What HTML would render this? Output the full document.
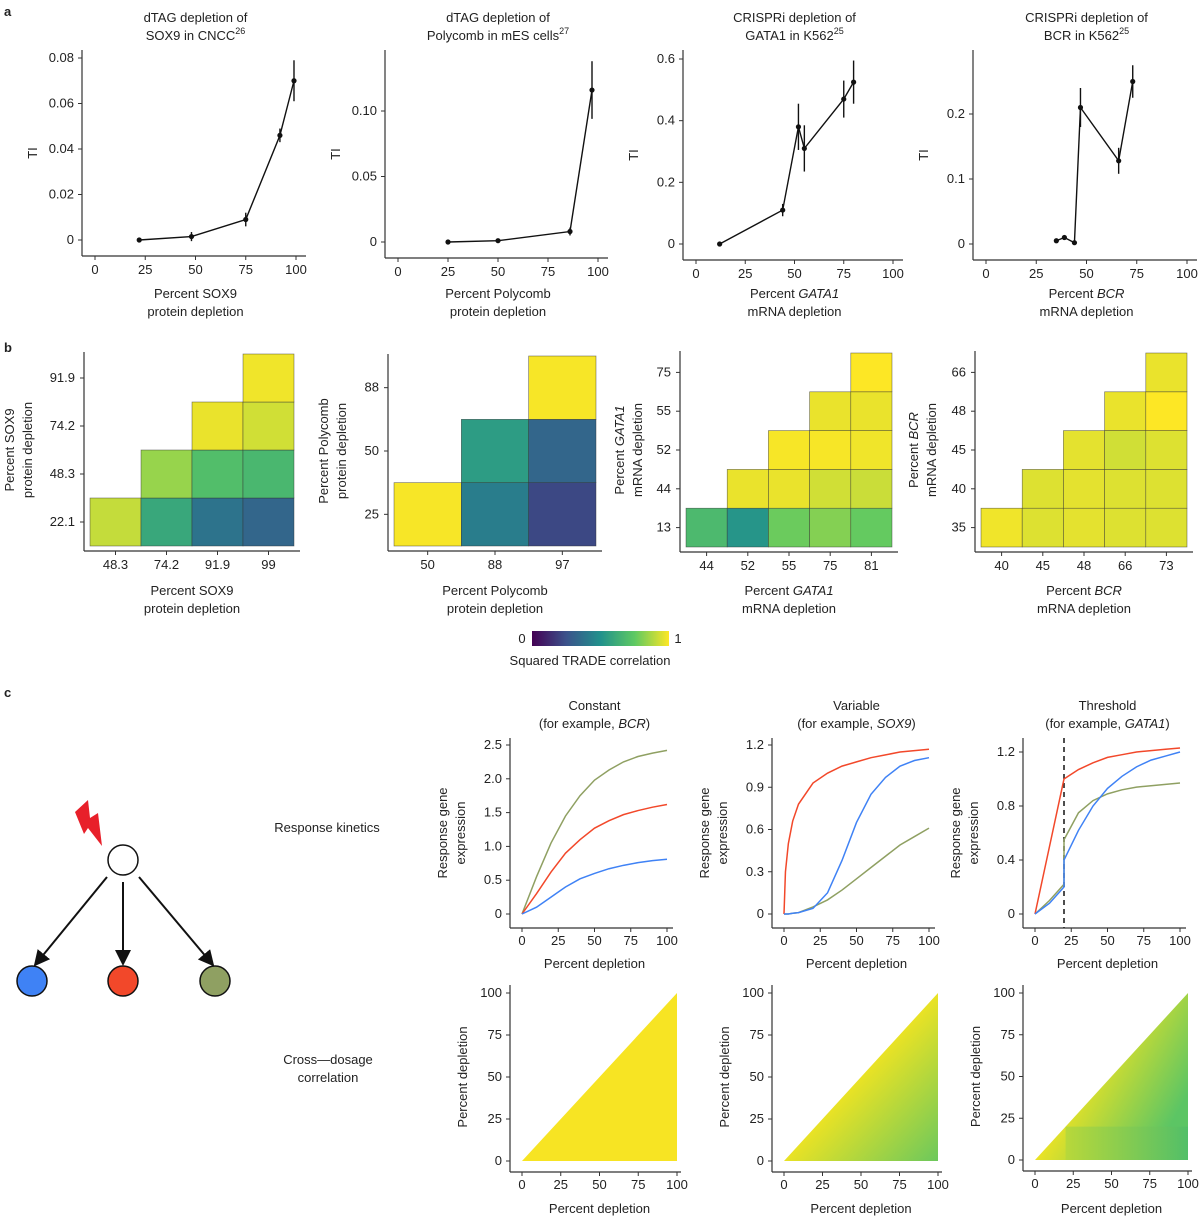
<!DOCTYPE html>
<html><head><meta charset="utf-8"><style>
html,body{margin:0;padding:0;background:#fff}
svg{display:block;font-family:"Liberation Sans",sans-serif;fill:#222}
text{font-size:13px;fill:#222}
</style></head><body>
<svg id="fig" width="1200" height="1216" viewBox="0 0 1200 1216" xmlns="http://www.w3.org/2000/svg">
<defs>
<linearGradient id="gVar" x1="0" y1="0" x2="1" y2="1"><stop offset="0.45" stop-color="#f6e51f"/><stop offset="1" stop-color="#6cc85c"/></linearGradient>
<linearGradient id="gThr" x1="0" y1="0" x2="1" y2="0.6"><stop offset="0.4" stop-color="#f6e51f"/><stop offset="1" stop-color="#5cc564"/></linearGradient>
<linearGradient id="gThr2" x1="0" y1="0" x2="1" y2="0"><stop offset="0" stop-color="#b8d83a"/><stop offset="1" stop-color="#52bf68"/></linearGradient>
<linearGradient id="cbar" x1="0" y1="0" x2="1" y2="0"><stop offset="0" stop-color="#440154"/><stop offset="0.25" stop-color="#3b528b"/><stop offset="0.5" stop-color="#21918c"/><stop offset="0.75" stop-color="#5ec962"/><stop offset="1" stop-color="#fde725"/></linearGradient>
<marker id="arr" markerWidth="8" markerHeight="8" refX="7" refY="4" orient="auto"><path d="M0,0 L8,4 L0,8 z" fill="#111"/></marker>
</defs>
</svg>
<script>
// ---------- Panel a data ----------
const a1X=[22,48,75,92,99]; const a1Y=[0,0.0015,0.009,0.046,0.07]; const a1E=[0.0005,0.002,0.003,0.003,0.009];
const a2X=[25,50,86,97]; const a2Y=[0,0.001,0.008,0.116]; const a2E=[0.0005,0.001,0.003,0.022];
const a3X=[12,44,52,55,75,80]; const a3Y=[0,0.11,0.38,0.31,0.47,0.525]; const a3E=[0.005,0.02,0.075,0.075,0.06,0.07];
const a4X=[35,39,44,47,66,73]; const a4Y=[0.005,0.01,0.002,0.21,0.128,0.25]; const a4E=[0.002,0.002,0.002,0.03,0.02,0.025];
const a1Ticks=[0,0.02,0.04,0.06,0.08]; const a1TickLabels=["0","0.02","0.04","0.06","0.08"];
const a2Ticks=[0,0.05,0.10]; const a2TickLabels=["0","0.05","0.10"];
const a3Ticks=[0,0.2,0.4,0.6]; const a3TickLabels=["0","0.2","0.4","0.6"];
const a4Ticks=[0,0.1,0.2]; const a4TickLabels=["0","0.1","0.2"];
const aXTicks=[0,25,50,75,100];
// ---------- Panel b data (values = squared correlation, column j has rows 0..j) ----------
const h1Labels=["22.1","48.3","74.2","91.9"]; const h1XLabels=["48.3","74.2","91.9","99"];
const h1Vals=[[0.91],[0.6,0.84],[0.38,0.7,0.97],[0.33,0.67,0.93,0.98]];
const h2Labels=["25","50","88"]; const h2XLabels=["50","88","97"];
const h2Vals=[[0.99],[0.42,0.55],[0.22,0.33,0.99]];
const h3Labels=["13","44","52","55","75"]; const h3XLabels=["44","52","55","75","81"];
const h3Vals=[[0.68],[0.52,0.97],[0.77,0.97,0.99],[0.81,0.93,0.99,0.97],[0.76,0.92,0.98,0.97,1.0]];
const h4Labels=["35","40","45","48","66"]; const h4XLabels=["40","45","48","66","73"];
const h4Vals=[[0.98],[0.95,0.95],[0.96,0.96,0.96],[0.95,0.95,0.93,0.97],[0.95,0.95,0.95,1.0,0.97]];
// ---------- Panel c data ----------
const cX=[0,10,20,30,40,50,60,70,80,90,100];
const c1Green=[0,0.55,1.05,1.45,1.75,1.98,2.13,2.25,2.33,2.38,2.42];
const c1Red=[0,0.3,0.62,0.9,1.1,1.27,1.38,1.47,1.53,1.58,1.62];
const c1Blue=[0,0.1,0.25,0.4,0.52,0.6,0.67,0.72,0.76,0.79,0.81];
const c2X=[0,1,3,6,10,20,30,40,50,60,70,80,90,100];
const c2Red=[0,0.3,0.5,0.66,0.78,0.93,1.0,1.05,1.08,1.11,1.13,1.15,1.16,1.17];
const c2Blue=[0,0,0,0.005,0.01,0.04,0.15,0.38,0.65,0.85,0.97,1.05,1.09,1.11];
const c2Green=[0,0,0,0.005,0.01,0.05,0.1,0.17,0.25,0.33,0.41,0.49,0.55,0.61];
const c3X=[0,10,20,20,30,40,50,60,70,80,90,100];
const c3Red=[0,0.5,1.0,1.0,1.07,1.12,1.16,1.18,1.2,1.21,1.22,1.23];
const c3Blue=[0,0.08,0.2,0.4,0.62,0.8,0.93,1.02,1.09,1.14,1.17,1.2];
const c3Green=[0,0.1,0.22,0.55,0.75,0.84,0.89,0.92,0.94,0.95,0.96,0.97];
const c1Ticks=[0,0.5,1,1.5,2,2.5]; const c1TickLabels=["0","0.5","1.0","1.5","2.0","2.5"];
const c2Ticks=[0,0.3,0.6,0.9,1.2]; const c2TickLabels=["0","0.3","0.6","0.9","1.2"];
const c3Ticks=[0,0.4,0.8,1.2]; const c3TickLabels=["0","0.4","0.8","1.2"];
const pctTicks=[0,25,50,75,100];
const c3Threshold=20;

const NS="http://www.w3.org/2000/svg";
const svg=document.getElementById('fig');
function mk(tag,attrs,parent){const e=document.createElementNS(NS,tag);for(const k in attrs)e.setAttribute(k,attrs[k]);(parent||svg).appendChild(e);return e;}
function txt(s,x,y,attrs,parent){const t=mk('text',Object.assign({x:x,y:y},attrs||{}),parent);t.textContent=s;return t;}
function grp(name){const g=mk('g',{});return g;}
function lin(a,b,c,d){return v=>c+(v-a)/(b-a)*(d-c);}
function viridis(v){const s=[[68,1,84],[59,82,139],[33,145,140],[94,201,98],[253,231,37]];
 const p=Math.max(0,Math.min(1,v))*4;const i=Math.min(3,Math.floor(p));const f=p-i;
 const c=s[i].map((x,k)=>Math.round(x+(s[i+1][k]-x)*f));return `rgb(${c[0]},${c[1]},${c[2]})`;}

[["a",4,16],["b",4,352],["c",4,697]].forEach(([l,x,y])=>{const t=txt(l,x,y,{'font-size':'18','font-weight':'bold'});});

// ---------- Panel a ----------
function scatterPanel(name,cfg){
 const g=grp(name);
 const sx=lin(0,100,cfg.x0,cfg.x1), sy=lin(0,cfg.ymax,cfg.y0,cfg.y1);
 const L=cfg.x0-13,B=cfg.y0+16;
 const ya=mk('line',{x1:L,y1:cfg.top,x2:L,y2:B,stroke:'#333','stroke-width':1.2},g);
 const xa=mk('line',{x1:L,y1:B,x2:cfg.x1+10,y2:B,stroke:'#333','stroke-width':1.2},g);
 cfg.yt.forEach((v,i)=>{mk('line',{x1:L-4,x2:L,y1:sy(v),y2:sy(v),stroke:'#333'},g);
  const t=txt(cfg.ytl[i],L-8,sy(v)+4,{'text-anchor':'end'},g);});
 aXTicks.forEach(v=>{mk('line',{x1:sx(v),x2:sx(v),y1:B,y2:B+4,stroke:'#333'},g);
  const t=txt(String(v),sx(v),B+18,{'text-anchor':'middle'},g);});
 const pts=cfg.xs.map((x,i)=>sx(x)+','+sy(cfg.ys[i])).join(' ');
 const pl=mk('polyline',{points:pts,fill:'none',stroke:'#111','stroke-width':1.4},g);
 cfg.xs.forEach((x,i)=>{const e=mk('line',{x1:sx(x),x2:sx(x),y1:sy(cfg.ys[i]-cfg.es[i]),y2:sy(cfg.ys[i]+cfg.es[i]),stroke:'#111','stroke-width':1.4},g);
  
  const c=mk('circle',{cx:sx(x),cy:sy(cfg.ys[i]),r:2.6,fill:'#111'},g);});
 const cx=(cfg.x0+cfg.x1)/2;
 cfg.title.forEach((l,i)=>{const t=mk('text',{x:cx,y:22+i*18,'text-anchor':'middle','font-size':'14'},g);t.innerHTML=l;});
 const yl=txt('TI',0,0,{transform:`translate(${L-45},${(cfg.top+B)/2}) rotate(-90)`,'text-anchor':'middle','font-size':'14'},g);
 cfg.xtitle.forEach((l,i)=>{const t=mk('text',{x:cx,y:298+i*18,'text-anchor':'middle','font-size':'14'},g);t.innerHTML=l;});
}
scatterPanel('chart-sox9-ti',{x0:95,x1:296,y0:240,y1:58,ymax:0.08,top:50,xs:a1X,ys:a1Y,es:a1E,yt:a1Ticks,ytl:a1TickLabels,
 title:['dTAG depletion of','SOX9 in CNCC<tspan font-size="9" dy="-6">26</tspan>'],xtitle:['Percent SOX9','protein depletion']});
scatterPanel('chart-polycomb-ti',{x0:398,x1:598,y0:242,y1:111,ymax:0.10,top:50,xs:a2X,ys:a2Y,es:a2E,yt:a2Ticks,ytl:a2TickLabels,
 title:['dTAG depletion of','Polycomb in mES cells<tspan font-size="9" dy="-6">27</tspan>'],xtitle:['Percent Polycomb','protein depletion']});
scatterPanel('chart-gata1-ti',{x0:696,x1:893,y0:244,y1:59,ymax:0.6,top:50,xs:a3X,ys:a3Y,es:a3E,yt:a3Ticks,ytl:a3TickLabels,
 title:['CRISPRi depletion of','GATA1 in K562<tspan font-size="9" dy="-6">25</tspan>'],xtitle:['Percent <tspan font-style="italic">GATA1</tspan>','mRNA depletion']});
scatterPanel('chart-bcr-ti',{x0:986,x1:1187,y0:244,y1:114,ymax:0.2,top:50,xs:a4X,ys:a4Y,es:a4E,yt:a4Ticks,ytl:a4TickLabels,
 title:['CRISPRi depletion of','BCR in K562<tspan font-size="9" dy="-6">25</tspan>'],xtitle:['Percent <tspan font-style="italic">BCR</tspan>','mRNA depletion']});

// ---------- Panel b ----------
function heatPanel(name,cfg){
 const g=grp(name);
 const n=cfg.vals.length; const cw=(cfg.x1-cfg.x0)/n, ch=(cfg.yb-cfg.yt)/n;
 const L=cfg.x0-6,B=cfg.yb+5;
 cfg.vals.forEach((col,j)=>col.forEach((v,i)=>{
  const r=mk('rect',{x:cfg.x0+j*cw,y:cfg.yb-(i+1)*ch,width:cw,height:ch,fill:viridis(v),stroke:'#333','stroke-width':0.6,'stroke-opacity':0.7},g);
  }));
 const ya=mk('line',{x1:L,y1:cfg.yt-2,x2:L,y2:B,stroke:'#333','stroke-width':1.2},g);
 const xa=mk('line',{x1:L,y1:B,x2:cfg.x1+6,y2:B,stroke:'#333','stroke-width':1.2},g);
 cfg.ylab.forEach((l,i)=>{const y=cfg.yb-(i+0.5)*ch;mk('line',{x1:L-4,x2:L,y1:y,y2:y,stroke:'#333'},g);
  const t=txt(l,L-9,y+4,{'text-anchor':'end'},g);});
 cfg.xlab.forEach((l,j)=>{const x=cfg.x0+(j+0.5)*cw;mk('line',{x1:x,x2:x,y1:B,y2:B+4,stroke:'#333'},g);
  const t=txt(l,x,B+18,{'text-anchor':'middle'},g);});
 const cx=(cfg.x0+cfg.x1)/2;
 cfg.xtitle.forEach((l,i)=>{const t=mk('text',{x:cx,y:595+i*18,'text-anchor':'middle','font-size':'14'},g);t.innerHTML=l;});
 const my=(cfg.yt+cfg.yb)/2;
 cfg.ytitle.forEach((l,i)=>{const t=mk('text',{transform:`translate(${cfg.ytx+i*18},${my}) rotate(-90)`,'text-anchor':'middle','font-size':'14'},g);t.innerHTML=l;});
}
heatPanel('heatmap-sox9',{x0:90,x1:294,yt:354,yb:546,vals:h1Vals,ylab:h1Labels,xlab:h1XLabels,ytx:14,
 xtitle:['Percent SOX9','protein depletion'],ytitle:['Percent SOX9','protein depletion']});
heatPanel('heatmap-polycomb',{x0:394,x1:596,yt:356,yb:546,vals:h2Vals,ylab:h2Labels,xlab:h2XLabels,ytx:328,
 xtitle:['Percent Polycomb','protein depletion'],ytitle:['Percent Polycomb','protein depletion']});
heatPanel('heatmap-gata1',{x0:686,x1:892,yt:353,yb:547,vals:h3Vals,ylab:h3Labels,xlab:h3XLabels,ytx:624,
 xtitle:['Percent <tspan font-style="italic">GATA1</tspan>','mRNA depletion'],ytitle:['Percent <tspan font-style="italic">GATA1</tspan>','mRNA depletion']});
heatPanel('heatmap-bcr',{x0:981,x1:1187,yt:353,yb:547,vals:h4Vals,ylab:h4Labels,xlab:h4XLabels,ytx:918,
 xtitle:['Percent <tspan font-style="italic">BCR</tspan>','mRNA depletion'],ytitle:['Percent <tspan font-style="italic">BCR</tspan>','mRNA depletion']});
{const g=grp('colorbar');
 const r=mk('rect',{x:532,y:631,width:137,height:15,fill:'url(#cbar)'},g);
 let t=txt('0',522,643,{'text-anchor':'middle'},g);
 t=txt('1',678,643,{'text-anchor':'middle'},g);
 t=txt('Squared TRADE correlation',590,665,{'text-anchor':'middle','font-size':'14'},g);}

// ---------- Panel c diagram ----------
{const g=grp('network-diagram');
 const bolt=mk('polygon',{points:'75,812 88,800 90,818 98,813 102,846 88,828 84,834',fill:'#e8202a'},g);
 const n=mk('circle',{cx:123,cy:860,r:15,fill:'#fff',stroke:'#111','stroke-width':1.5},g);
 [[107,877,35,965],[123,882,123,964],[139,877,213,965]].forEach(a=>{const l=mk('line',{x1:a[0],y1:a[1],x2:a[2],y2:a[3],stroke:'#111','stroke-width':2,'marker-end':'url(#arr)'},g);});
 [[32,'#3f82f5','blue-gene-node'],[123,'#f2482a','red-gene-node'],[215,'#8fa062','green-gene-node']].forEach(([x,c,nm])=>{const e=mk('circle',{cx:x,cy:981,r:15,fill:c,stroke:'#111','stroke-width':1.5},g);});
 let t=txt('Response kinetics',327,832,{'text-anchor':'middle','font-size':'14'});
 t=txt('Cross—dosage',328,1064,{'text-anchor':'middle','font-size':'14'});
 t=txt('correlation',328,1082,{'text-anchor':'middle','font-size':'14'});}

// ---------- Panel c line charts ----------
function axesBox(g,L,B,top,right,sx,sy,yt,ytl,xt){
 const ya=mk('line',{x1:L,y1:top,x2:L,y2:B,stroke:'#333','stroke-width':1.2},g);
 const xa=mk('line',{x1:L,y1:B,x2:right,y2:B,stroke:'#333','stroke-width':1.2},g);
 yt.forEach((v,i)=>{mk('line',{x1:L-4,x2:L,y1:sy(v),y2:sy(v),stroke:'#333'},g);
  const t=txt(ytl[i],L-8,sy(v)+4,{'text-anchor':'end'},g);});
 xt.forEach(v=>{mk('line',{x1:sx(v),x2:sx(v),y1:B,y2:B+4,stroke:'#333'},g);
  const t=txt(String(v),sx(v),B+17,{'text-anchor':'middle'},g);});
}
function linePanel(name,cfg){
 const g=grp(name);
 const sx=lin(0,100,cfg.x0,cfg.x1), sy=lin(0,cfg.ymax,cfg.y0,cfg.y1);
 const L=cfg.x0-12,B=cfg.y0+14;
 axesBox(g,L,B,cfg.top,cfg.x1+6,sx,sy,cfg.yt,cfg.ytl,pctTicks);
 if(cfg.thr!==undefined){const d=mk('line',{x1:sx(cfg.thr),x2:sx(cfg.thr),y1:cfg.top,y2:B,stroke:'#222','stroke-width':1.6,'stroke-dasharray':'5,4'},g);}
 cfg.series.forEach(([ys,col,nm])=>{const p=mk('polyline',{points:cfg.xs.map((x,i)=>sx(x)+','+sy(ys[i])).join(' '),fill:'none',stroke:col,'stroke-width':1.5},g);});
 const cx=(cfg.x0+cfg.x1)/2;
 cfg.title.forEach((l,i)=>{const t=mk('text',{x:cx,y:710+i*18,'text-anchor':'middle','font-size':'14'},g);t.innerHTML=l;});
 let t=txt('Percent depletion',cx,968,{'text-anchor':'middle','font-size':'14'},g);
 ['Response gene','expression'].forEach((l,i)=>{const t=txt(l,0,0,{transform:`translate(${cfg.x0-75+i*18},${(cfg.top+B)/2}) rotate(-90)`,'text-anchor':'middle','font-size':'14'},g);});
}
linePanel('kinetics-constant',{x0:522,x1:667,y0:914,y1:745,ymax:2.5,top:738,xs:cX,yt:c1Ticks,ytl:c1TickLabels,
 series:[[c1Green,'#8fa062','green-curve'],[c1Red,'#f2482a','red-curve'],[c1Blue,'#3f82f5','blue-curve']],
 title:['Constant','(for example, <tspan font-style="italic">BCR</tspan>)']});
linePanel('kinetics-variable',{x0:784,x1:929,y0:914,y1:745,ymax:1.2,top:738,xs:c2X,yt:c2Ticks,ytl:c2TickLabels,
 series:[[c2Green,'#8fa062','green-curve'],[c2Red,'#f2482a','red-curve'],[c2Blue,'#3f82f5','blue-curve']],
 title:['Variable','(for example, <tspan font-style="italic">SOX9</tspan>)']});
linePanel('kinetics-threshold',{x0:1035,x1:1180,y0:914,y1:752,ymax:1.2,top:738,xs:c3X,yt:c3Ticks,ytl:c3TickLabels,thr:c3Threshold,
 series:[[c3Green,'#8fa062','green-curve'],[c3Red,'#f2482a','red-curve'],[c3Blue,'#3f82f5','blue-curve']],
 title:['Threshold','(for example, <tspan font-style="italic">GATA1</tspan>)']});

// ---------- Panel c triangles ----------
function triPanel(name,cfg){
 const g=grp(name);
 const sx=lin(0,100,cfg.x0,cfg.x1), sy=lin(0,100,cfg.y0,cfg.y1);
 const L=cfg.x0-12,B=cfg.y0+11;
 axesBox(g,L,B,cfg.y1-8,cfg.x1+4,sx,sy,pctTicks,pctTicks.map(String),pctTicks);
 const tri=mk('polygon',{points:`${sx(0)},${sy(0)} ${sx(100)},${sy(0)} ${sx(100)},${sy(100)}`,fill:cfg.fill},g);
 if(cfg.thr!==undefined){const r=mk('polygon',{points:`${sx(cfg.thr)},${sy(0)} ${sx(100)},${sy(0)} ${sx(100)},${sy(cfg.thr)} ${sx(cfg.thr)},${sy(cfg.thr)}`,fill:'url(#gThr2)'},g);}
 const cx=(cfg.x0+cfg.x1)/2;
 let t=txt('Percent depletion',cx,1213,{'text-anchor':'middle','font-size':'14'},g);
 t=txt('Percent depletion',0,0,{transform:`translate(${cfg.x0-55},${(cfg.y0+cfg.y1)/2}) rotate(-90)`,'text-anchor':'middle','font-size':'14'},g);
}
triPanel('crossdosage-constant',{x0:522,x1:677,y0:1161,y1:993,fill:'#f7e423'});
triPanel('crossdosage-variable',{x0:784,x1:938,y0:1161,y1:993,fill:'url(#gVar)'});
triPanel('crossdosage-threshold',{x0:1035,x1:1188,y0:1160,y1:993,fill:'url(#gThr)',thr:c3Threshold});
</script>
</body></html>
